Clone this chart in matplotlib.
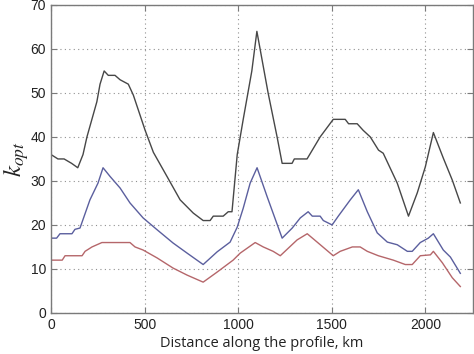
import matplotlib
matplotlib.use("Agg")
import matplotlib.pyplot as plt

# profile distance (km) and k_opt values
x_black = [0, 37, 70, 110, 143, 171, 192, 245, 262, 284, 306, 342, 369, 413, 440,
           503, 547, 620, 690, 760, 813, 850, 867, 920, 947, 967, 995, 1027, 1073,
           1100, 1160, 1208, 1235, 1288, 1300, 1368, 1438, 1508, 1572, 1590, 1636,
           1668, 1706, 1750, 1775, 1850, 1910, 1957, 2000, 2043, 2096, 2144, 2187]
y_black = [36, 35, 35, 34, 33, 36, 40, 48, 52, 55, 54, 54, 53, 52, 49.5,
           41.5, 36.5, 31, 25.7, 22.7, 21, 21, 22, 22, 23, 23, 36, 44, 55,
           64, 50, 40, 34, 34, 35, 35, 40, 44, 44, 43, 43,
           41.5, 40, 37, 36.3, 29.5, 22, 27.3, 33.2, 41, 35.2, 30.2, 25]

x_blue = [0, 30, 48, 112, 128, 155, 208, 251, 278, 316, 369, 422, 492, 567, 652,
          727, 813, 888, 957, 995, 1027, 1064, 1101, 1155, 1235, 1289, 1332, 1374,
          1396, 1438, 1455, 1502, 1535, 1599, 1642, 1690, 1743, 1797, 1850, 1904,
          1930, 1973, 2016, 2043, 2096, 2134, 2187]
y_blue = [17, 17, 18, 18, 19, 19.3, 25.7, 29.5, 33, 31, 28.4, 25, 21.6, 18.9, 15.9,
          13.6, 11, 13.9, 16.1, 19.5, 23.8, 29.5, 33, 26.4, 17, 19.3, 21.6, 23,
          22, 22, 21, 20, 22, 25.7, 28, 23, 18.2, 16.1, 15.5, 14,
          14, 16, 17, 18, 14.3, 12.7, 9]

x_red = [0, 60, 75, 166, 182, 219, 272, 422, 449, 492, 567, 652, 727, 813, 888,
         973, 1011, 1091, 1134, 1187, 1225, 1315, 1369, 1422, 1508, 1545, 1610,
         1652, 1690, 1749, 1829, 1893, 1930, 1973, 2027, 2043, 2091, 2144, 2187]
y_red = [12, 12, 13, 13, 14, 15, 16, 16, 15, 14.3, 12.5, 10.2, 8.6, 7, 9.3,
         12, 13.6, 16, 15, 14, 13, 16.6, 18, 16.1, 13, 14, 15,
         15, 14, 13, 12, 11, 11, 13, 13.2, 14, 11.4, 8, 6]

x_ticks = [0, 500, 1000, 1500, 2000]
y_ticks = [0, 10, 20, 30, 40, 50, 60, 70]

plt.rcParams["mathtext.fontset"] = "stix"

fig = plt.figure(figsize=(4.74, 3.54), dpi=100)
ax = fig.add_axes([0.1076, 0.116, 0.8904, 0.870])

ax.plot(x_black, y_black, color="#474747", lw=1.0)
ax.plot(x_blue, y_blue, color="#5b5f9e", lw=1.0)
ax.plot(x_red, y_red, color="#b5666a", lw=1.0)

ax.set_xlim(0, 2255)
ax.set_ylim(0, 70)
ax.set_xticks(x_ticks)
ax.set_yticks(y_ticks)
ax.grid(True, linestyle=(0, (1, 3)), color="#909090", lw=0.8)

for s in ax.spines.values():
    s.set_color("#7a7a7a")
    s.set_linewidth(1.0)
ax.tick_params(direction="in", top=True, right=True, length=4, color="#7a7a7a",
               labelsize=10, labelcolor="#222222")
for lab in ax.get_xticklabels() + ax.get_yticklabels():
    lab.set_family("Liberation Sans")

ax.set_xlabel("Distance along the profile, km", family="Open Sans", fontsize=10.5,
              color="#222222", labelpad=3)
ax.set_ylabel(r"$k_{opt}$", fontsize=18, color="#222222", labelpad=0)

fig.savefig("out.png", dpi=100)
